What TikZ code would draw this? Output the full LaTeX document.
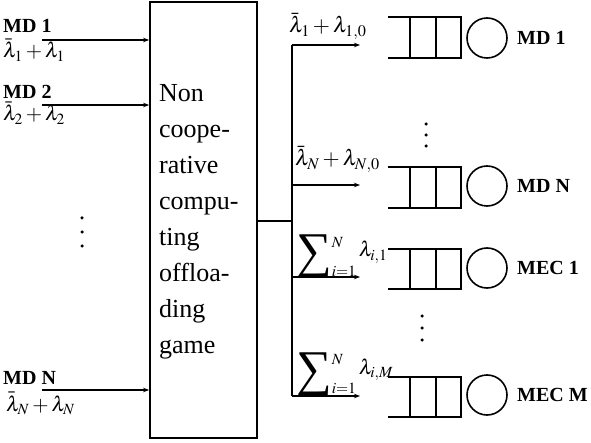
\documentclass[tikz,border=0pt]{standalone}
\usepackage{mathptmx}
\usepackage{fontspec}
\setmainfont{Liberation Serif}
\usetikzlibrary{arrows.meta}
\tikzset{
  arr/.style={line width=1.3pt,-{Stealth[length=6pt,width=4.5pt]}},
  wire/.style={line width=1.3pt},
  lbl/.style={font=\fontsize{20}{22}\selectfont\bfseries, inner sep=0pt},
  mlbl/.style={font=\fontsize{21}{23}\selectfont, inner sep=0pt},
  blbl/.style={font=\fontsize{22}{24}\selectfont, inner sep=0pt},
  qbox/.style={minimum width=73pt, minimum height=40pt, inner sep=0pt, draw=none},
  srv/.style={circle, draw, line width=1.6pt, minimum size=40pt, inner sep=0pt},
  dot/.style={circle, fill, inner sep=0pt, minimum size=3.5pt},
}
\newcommand\bigsumlbl[1]{$\mathop{\hbox{\fontsize{50}{50}\selectfont ∑}}\nolimits_{\raisebox{3pt}{$\scriptstyle i=1$}}^{\raisebox{-6pt}{$\scriptstyle N$}}\raisebox{11pt}{$\lambda_{#1}$}$}
\newcommand\drawqueue[1]{%
  \draw[line width=1.8pt] (#1.north west) -- (#1.north east) -- (#1.south east) -- (#1.south west);
  \draw[line width=1.8pt] ([xshift=22pt]#1.north west) -- ([xshift=22pt]#1.south west);
  \draw[line width=1.8pt] ([xshift=48pt]#1.north west) -- ([xshift=48pt]#1.south west);}
\begin{document}
\begin{tikzpicture}[x=1pt,y=-1pt]
\useasboundingbox (0,0) rectangle (591,443);
% central box
\node[draw, line width=1.8pt, minimum width=107pt, minimum height=436pt, inner sep=0pt] (game) at (203.5,220) {};
\node[align=left, font=\fontsize{26}{36}\selectfont, inner sep=0pt, anchor=north west] (gtxt) at (159,84)
  {Non\\coope-\\rative\\compu-\\ting\\offloa-\\ding\\game};
% left inputs
\coordinate (s1) at (42,40);
\coordinate (s2) at (42,105);
\coordinate (sN) at (42,390);
\draw[arr] (s1) -- (s1 -| game.west);
\draw[arr] (s2) -- (s2 -| game.west);
\draw[arr] (sN) -- (sN -| game.west);
\node[lbl, anchor=base west] (l1a) at (3,33) {MD 1};
\node[mlbl, anchor=base west] (l1b) at (3,58) {$\bar\lambda_1+\lambda_1$};
\node[lbl, anchor=base west] (l2a) at (3,99) {MD 2};
\node[mlbl, anchor=base west] (l2b) at (3,121) {$\bar\lambda_2+\lambda_2$};
\node[lbl, anchor=base west] (lNa) at (3,384) {MD N};
\node[mlbl, anchor=base west] (lNb) at (6,411) {$\bar\lambda_N+\lambda_N$};
\node[dot] (ld1) at (82,218) {};
\node[dot] (ld2) at (82,232) {};
\node[dot] (ld3) at (82,246) {};
% output bus
\coordinate (bj) at (292,221);
\coordinate (btop) at (292,45);
\coordinate (bbot) at (292,396);
\coordinate (bN) at (292,185);
\coordinate (bM1) at (292,277);
\draw[wire] (game.east |- bj) -- (bj);
\draw[wire] (btop) -- (bbot);
\coordinate (e1) at (360,45);
\coordinate (eN) at (360,185);
\coordinate (eM1) at (360,277);
\coordinate (eMM) at (360,396);
\draw[arr] (btop) -- (e1);
\draw[arr] (bN) -- (eN);
\draw[arr] (bM1) -- (eM1);
\draw[arr] (bbot) -- (eMM);
% branch labels
\node[blbl, anchor=base west] (b1) at (289,33) {$\bar\lambda_1+\lambda_{1,0}$};
\node[blbl, anchor=base west] (bNl) at (295,166) {$\bar\lambda_N+\lambda_{N,0}$};
\node[mlbl, anchor=base west] (bM1l) at (296,268) {\bigsumlbl{i,1}};
\node[mlbl, anchor=base west] (bMMl) at (296,385) {\bigsumlbl{i,M}};
% queues
\node[qbox] (q1) at (424.5,37.5) {};
\node[qbox] (qN) at (424.5,187.5) {};
\node[qbox] (qM1) at (424.5,269) {};
\node[qbox] (qMM) at (424.5,397) {};
\drawqueue{q1}
\drawqueue{qN}
\drawqueue{qM1}
\drawqueue{qMM}
% servers
\node[srv] (c1) at (487,38) {};
\node[srv] (cN) at (487,186) {};
\node[srv] (cM1) at (487,268) {};
\node[srv] (cMM) at (487,395) {};
\node[lbl, anchor=west] (n1) at (517,38) {MD 1};
\node[lbl, anchor=west] (nN) at (517,186) {MD N};
\node[lbl, anchor=west] (nM1) at (517,268) {MEC 1};
\node[lbl, anchor=west] (nMM) at (517,395) {MEC M};
% dots right
\node[dot] (rd1) at (426,124) {};
\node[dot] (rd2) at (426,135) {};
\node[dot] (rd3) at (426,146) {};
\node[dot] (rd4) at (422,316) {};
\node[dot] (rd5) at (422,328) {};
\node[dot] (rd6) at (422,340) {};
\end{tikzpicture}
\end{document}
